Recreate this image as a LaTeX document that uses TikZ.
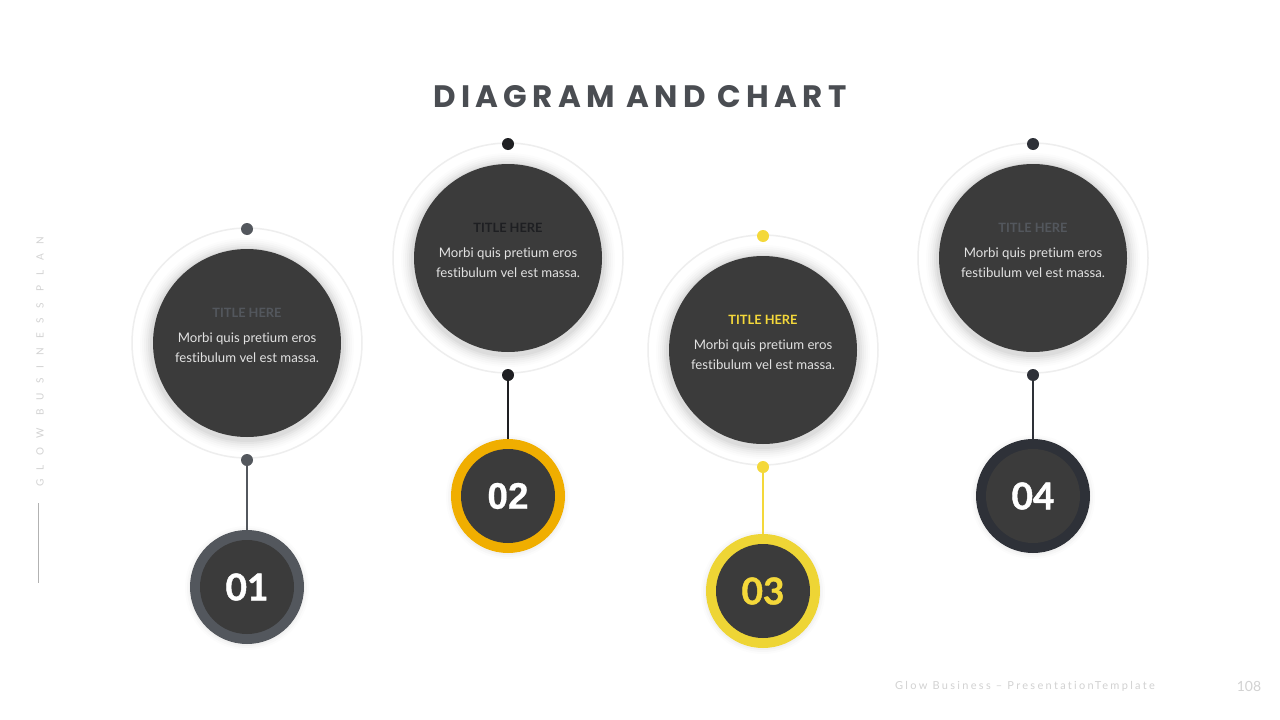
\documentclass[tikz,border=0pt]{standalone}
\usepackage{fontspec}
\defaultfontfeatures{Ligatures={NoCommon}}
\setmainfont{Lato}
\newfontfamily\titlefont[LetterSpace=17]{Poppins}
\newfontfamily\sidefont[LetterSpace=95]{Lato}
\newfontfamily\footfont[LetterSpace=21]{Lato}
\newfontfamily\numfont[BoldFeatures={FakeBold=1.2}]{Lato}
\newfontfamily\arialfont[BoldFeatures={FakeBold=0.6}]{Liberation Sans}
\definecolor{cdark}{HTML}{3B3B3B}
\definecolor{cring}{HTML}{EEEEEE}
\definecolor{ctitle}{HTML}{4A4D52}
\definecolor{cgrayA}{HTML}{53575D}
\definecolor{cblack}{HTML}{1E1F22}
\definecolor{cyel}{HTML}{F4D83A}
\definecolor{cyelring}{HTML}{EED535}
\definecolor{corange}{HTML}{F0AE00}
\definecolor{cnavy}{HTML}{2E3138}
\definecolor{cbody}{HTML}{E2E2E2}
\definecolor{cfaint}{HTML}{D2D2D2}
\tikzset{
  bigc/.style={circle, fill=cdark, minimum size=188pt, inner sep=0pt},
  ringc/.style={circle, draw=cring, line width=1.5pt, minimum size=230pt, inner sep=0pt},
  dotc/.style={circle, fill=#1, minimum size=12pt, inner sep=0pt},
  numout/.style={circle, fill=#1, minimum size=114pt, inner sep=0pt},
  numin/.style={circle, fill=cdark, minimum size=94pt, inner sep=0pt, font=\numfont\bfseries\fontsize{37}{40}\selectfont},
  ttl/.style={font=\bfseries\fontsize{12.8}{14}\selectfont, text=#1},
  body/.style={font=\fontsize{13.2}{20}\selectfont, text=cbody, align=center},
  link/.style={draw=#1, line width=1.2pt},
}
% #1 id, #2 x, #3 y (big circle), #4 dot colour, #5 title colour, #6 number ring colour, #7 number y, #8 number text, #9 number text colour
\newcommand\stagecol[9]{%
  \foreach \r/\o in {107/0.012,105/0.015,103/0.02,101/0.025,99/0.03,97/0.035}{%
    \fill[black, opacity=\o] (#2,#3+2) circle (\r);}
  \node[ringc] (ring#1) at (#2,#3) {};
  \node[bigc] (big#1) at (#2,#3) {};
  \node[ttl=#5] (title#1) at (#2,#3-30) {TITLE HERE};
  \node[body] (body#1) at (#2,#3+5) {Morbi quis pretium eros\\festibulum vel est massa.};
  \node[dotc=#4] (top#1) at (#2,#3-114) {};
  \node[dotc=#4] (bot#1) at (#2,#3+117) {};
  \foreach \r/\o in {62/0.012,60/0.018,58/0.025}{%
    \fill[black, opacity=\o] (#2,#7+1) circle (\r);}
  \node[numout=#6] (num#1) at (#2,#7) {};
  \node[numin, text=#9] (numin#1) at (#2,#7) {#8};
  \draw[link=#4] (bot#1) -- (num#1);
}
\begin{document}
\begin{tikzpicture}[x=1pt,y=-1pt]
\useasboundingbox (0,0) rectangle (1280,720);
\fill[white] (0,0) rectangle (1280,720);
\node[font=\titlefont\bfseries\fontsize{31}{34}\selectfont, text=ctitle] (head) at (640,97) {DIAGRAM AND CHART};
\stagecol{1}{247}{343}{cgrayA}{cgrayA}{cgrayA}{587}{\bfseries 01}{white}
\stagecol{2}{508}{258}{cblack}{cblack}{corange}{496}{\arialfont\bfseries 02}{white}
\stagecol{3}{763}{350}{cyel}{cyel}{cyelring}{591}{\bfseries 03}{cyel}
\stagecol{4}{1033}{258}{cnavy}{cgrayA}{cnavy}{496}{\bfseries 04}{white}
\node[rotate=90, font=\sidefont\fontsize{10}{12}\selectfont, text=cfaint] (side) at (40,362) {GLOW BUSINESS PLAN};
\coordinate (sideA) at (38,503);
\coordinate (sideB) at (38,583);
\draw[draw=cfaint!85!black, line width=0.8pt] (sideA) -- (sideB);
\node[font=\footfont\fontsize{11}{13}\selectfont, text=cfaint] (foot) at (1025,686) {Glow Business – PresentationTemplate};
\node[font=\fontsize{14}{16}\selectfont, text=cfaint] (page) at (1249,686) {108};
\end{tikzpicture}
\end{document}
